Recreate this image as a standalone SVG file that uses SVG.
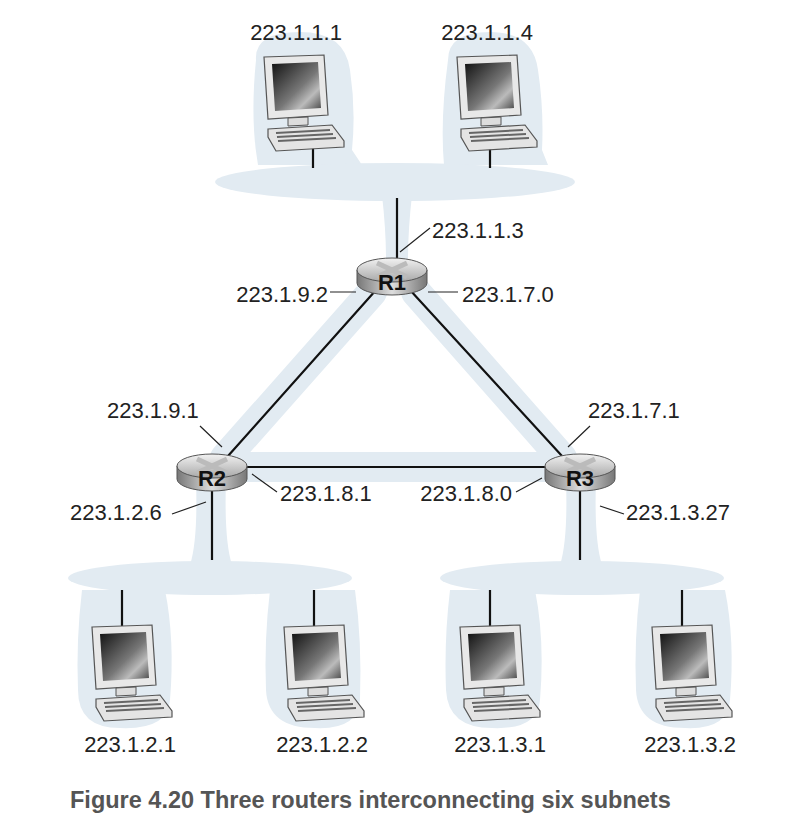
<svg xmlns="http://www.w3.org/2000/svg" width="798" height="826" viewBox="0 0 798 826">
<defs>
<style>
.t{font-family:"Liberation Sans",Arial,sans-serif;font-size:22px;fill:#222}
.b{fill:#e2ebf2}
.band{stroke:#e2ebf2;stroke-width:30;stroke-linecap:round;fill:none}
.ln{stroke:#111;stroke-width:2.2;fill:none}
.ld{stroke:#222;stroke-width:1.2;fill:none}
.rl{font-family:"Liberation Sans",Arial,sans-serif;font-size:22px;font-weight:bold;fill:#111}
</style>
<linearGradient id="scr" x1="0" y1="0" x2="1" y2="1"><stop offset="0" stop-color="#111"/><stop offset="0.55" stop-color="#777"/><stop offset="0.75" stop-color="#bbb"/><stop offset="1" stop-color="#444"/></linearGradient>
<linearGradient id="rt" x1="0" y1="0" x2="0" y2="1"><stop offset="0" stop-color="#f2f2f2"/><stop offset="1" stop-color="#a8a8a8"/></linearGradient>
<linearGradient id="rb" x1="0" y1="0" x2="1" y2="0"><stop offset="0" stop-color="#777"/><stop offset="0.5" stop-color="#ddd"/><stop offset="1" stop-color="#777"/></linearGradient>
<g id="pc">
<path d="M2,2 L62,0 L66,60 L6,64 Z" fill="#e8e8e8" stroke="#555" stroke-width="1.2"/>
<path d="M10,9 L56,7 L59,53 L13,56 Z" fill="url(#scr)"/>
<path d="M26,63 L46,62 L46,70 L26,71 Z" fill="#ddd" stroke="#555" stroke-width="1"/>
<path d="M6,74 L70,70 L82,86 L82,92 L14,96 L6,82 Z" fill="#e4e4e4" stroke="#555" stroke-width="1.2"/>
<path d="M14,78 L68,75 M15,82 L71,79 M16,86 L74,83" stroke="#666" stroke-width="2"/>
</g>
<g id="rtr">
<path d="M-35,0 L-35,13 A35,12 0 0 0 35,13 L35,0 Z" fill="url(#rb)" stroke="#555" stroke-width="1"/>
<ellipse cx="0" cy="0" rx="35" ry="12" fill="url(#rt)" stroke="#555" stroke-width="1"/>
<path d="M-15,-7 L15,7 M-15,7 L15,-7" stroke="#bbb" stroke-width="5"/>
</g>
</defs>
<rect width="798" height="826" fill="#fff"/>
<g id="backdrop">
<path class="b" d="M256,60 Q254,32 300,32 Q345,32 350,70 Q356,110 352,150 L362,165 L258,165 Q250,120 256,60 Z"/>
<path class="b" d="M448,60 Q448,32 490,32 Q533,32 538,70 Q544,110 542,150 L548,165 L444,165 Q440,120 448,60 Z"/>
<ellipse class="b" cx="395" cy="182" rx="180" ry="19"/>
<path class="b" d="M382,195 L412,195 Q408,230 408,260 L386,260 Q386,230 382,195 Z"/>
<path class="band" d="M372,292 L225,458 M416,292 L562,458 M240,467 L550,467"/>
<ellipse class="b" cx="210" cy="578" rx="142" ry="17"/>
<path class="b" d="M196,480 L226,480 Q224,540 232,565 L190,565 Q198,540 196,480 Z"/>
<path class="b" d="M82,590 L165,590 Q175,640 170,700 Q168,730 120,728 Q78,728 78,690 Q76,640 82,590 Z"/>
<path class="b" d="M270,590 L355,590 Q362,640 360,700 Q358,730 315,728 Q268,728 266,690 Q264,640 270,590 Z"/>
<ellipse class="b" cx="582" cy="578" rx="142" ry="17"/>
<path class="b" d="M566,480 L596,480 Q594,540 602,565 L560,565 Q568,540 566,480 Z"/>
<path class="b" d="M450,590 L535,590 Q545,640 540,700 Q538,730 492,728 Q448,728 446,690 Q444,640 450,590 Z"/>
<path class="b" d="M640,590 L725,590 Q735,640 730,700 Q728,730 685,728 Q638,728 636,690 Q634,640 640,590 Z"/>
</g>
<g id="connectors">
<path class="ln" d="M313,140 L313,168 M490,140 L490,168 M397,198 L397,258"/>
<path class="ln" d="M376,290 L228,456 M410,290 L562,456 M246,467 L546,467"/>
<path class="ln" d="M212,488 L212,560 M580,488 L580,560"/>
<path class="ln" d="M122,590 L122,626 M314,590 L314,626 M490,590 L490,626 M682,590 L682,626"/>
<path class="ld" d="M400,252 L430,228 M330,292 L356,292 M428,292 L458,292 M200,426 L222,447 M590,426 L568,447 M172,514 L206,502 M252,474 L277,492 M516,492 L542,478 M600,506 L624,514"/>
</g>
<g id="h1"><use href="#pc" x="262" y="55"/><text class="t" x="296" y="40" text-anchor="middle">223.1.1.1</text></g>
<g id="h2"><use href="#pc" x="455" y="55"/><text class="t" x="487" y="40" text-anchor="middle">223.1.1.4</text></g>
<g id="h3"><use href="#pc" x="90" y="625"/><text class="t" x="130" y="752" text-anchor="middle">223.1.2.1</text></g>
<g id="h4"><use href="#pc" x="282" y="625"/><text class="t" x="322" y="752" text-anchor="middle">223.1.2.2</text></g>
<g id="h5"><use href="#pc" x="458" y="625"/><text class="t" x="500" y="752" text-anchor="middle">223.1.3.1</text></g>
<g id="h6"><use href="#pc" x="650" y="625"/><text class="t" x="690" y="752" text-anchor="middle">223.1.3.2</text></g>
<g id="R1"><use href="#rtr" x="392" y="270"/><text class="rl" x="392" y="290" text-anchor="middle">R1</text></g>
<g id="R2"><use href="#rtr" x="212" y="466"/><text class="rl" x="212" y="486" text-anchor="middle">R2</text></g>
<g id="R3"><use href="#rtr" x="580" y="466"/><text class="rl" x="580" y="486" text-anchor="middle">R3</text></g>
<g id="labels">
<text class="t" x="432" y="238">223.1.1.3</text>
<text class="t" x="328" y="302" text-anchor="end">223.1.9.2</text>
<text class="t" x="462" y="302">223.1.7.0</text>
<text class="t" x="107" y="418">223.1.9.1</text>
<text class="t" x="588" y="418">223.1.7.1</text>
<text class="t" x="70" y="520">223.1.2.6</text>
<text class="t" x="280" y="501">223.1.8.1</text>
<text class="t" x="512" y="501" text-anchor="end">223.1.8.0</text>
<text class="t" x="626" y="520">223.1.3.27</text>
</g>
<text x="70" y="808" font-family="Liberation Sans,Arial,sans-serif" font-size="23.5" font-weight="bold" fill="#555">Figure 4.20 Three routers interconnecting six subnets</text>
</svg>
